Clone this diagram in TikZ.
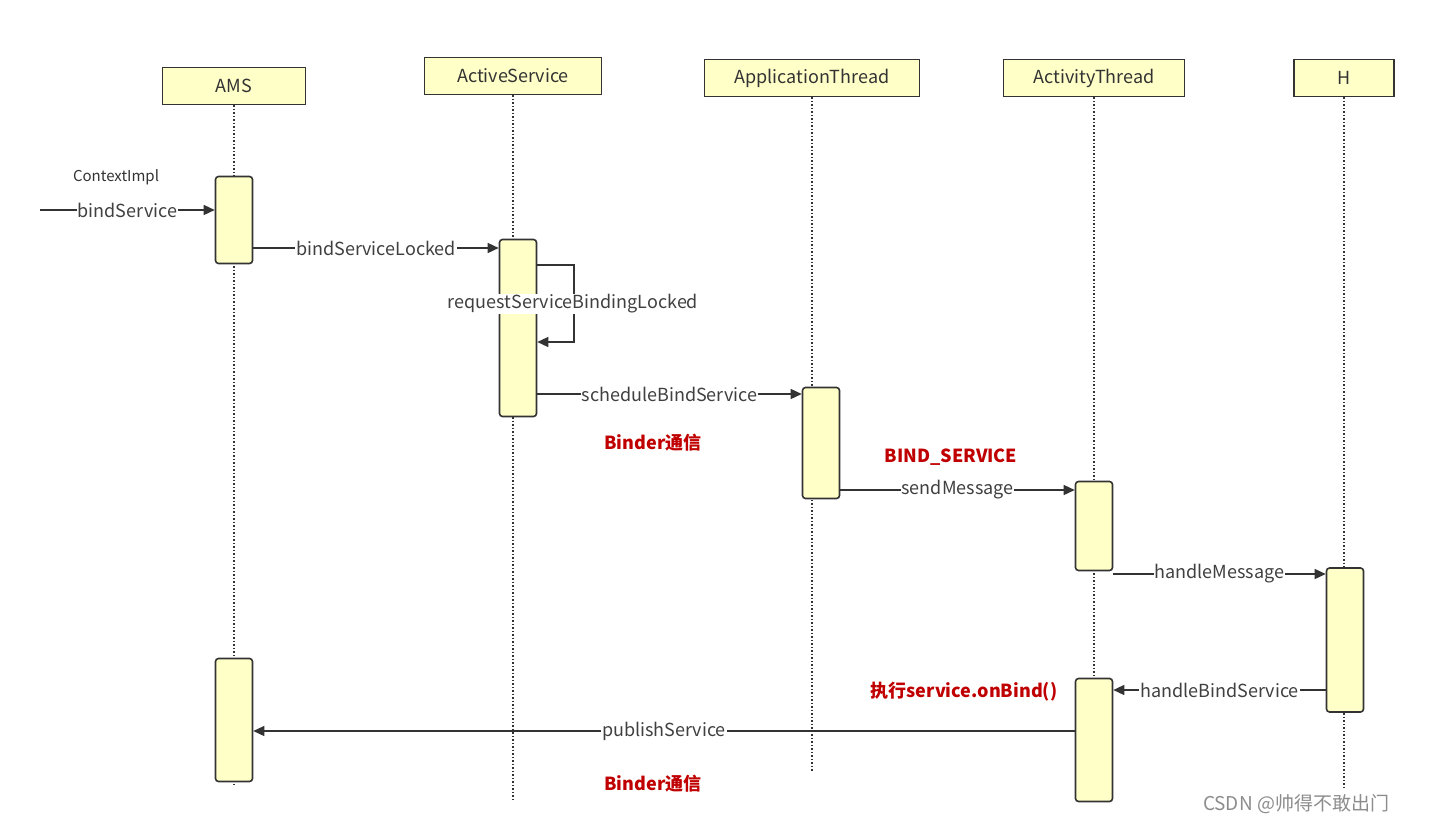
\documentclass[tikz,border=0pt]{standalone}
\usepackage{fontspec}
\setmainfont{Noto Sans CJK SC}
\usetikzlibrary{arrows.meta}
\definecolor{boxfill}{HTML}{FFFFC8}
\definecolor{boxline}{HTML}{333333}
\definecolor{note}{HTML}{C00000}

\begin{document}
\begin{tikzpicture}[x=1pt,y=-1pt,
		head/.style={draw=boxline,line width=1.6pt,fill=boxfill,minimum height=37pt,inner sep=0pt,font=\fontsize{18}{18}\selectfont,text=black!80},
		act/.style={draw=boxline,line width=1.6pt,fill=boxfill,rounded corners=3pt,minimum width=37pt,inner sep=0pt},
		life/.style={draw=boxline,dotted,line width=1.5pt},
		msg/.style={draw=boxline,line width=1.4pt,-{Triangle[length=11pt,width=10pt]}},
		lbl/.style={fill=white,inner sep=1pt,text=black!75,font=\fontsize{18}{18}\selectfont},
		red/.style={text=note,font=\bfseries\fontsize{18}{18}\selectfont}]
	\useasboundingbox (0,0) rectangle (1434,830);
	% lifelines
	\draw[life] (234,105) -- (234,785);
	\draw[life] (513,95) -- (513,800);
	\draw[life] (812,97) -- (812,772);
	\draw[life] (1094,97) -- (1094,800);
	\draw[life] (1344,97) -- (1344,790);
	% heads
	\node[head,minimum width=143pt] (ams) at (234,86) {AMS};
	\node[head,minimum width=177pt] (as) at (513,76) {ActiveService};
	\node[head,minimum width=215pt] (apt) at (812,78) {ApplicationThread};
	\node[head,minimum width=181pt] (at) at (1094,78) {ActivityThread};
	\node[head,minimum width=100pt] (h) at (1344,78) {H};
	% activations
	\node[act,minimum height=87pt] (ams1) at (234,220) {};
	\node[act,minimum height=177pt] (as1) at (518,328) {};
	\node[act,minimum height=111pt] (apt1) at (821,443) {};
	\node[act,minimum height=89pt] (at1) at (1094,526) {};
	\node[act,minimum height=144pt] (h1) at (1345,640) {};
	\node[act,minimum height=123pt] (ams2) at (234,720) {};
	\node[act,minimum height=123pt] (at2) at (1094,740) {};
	% messages
	\node[font=\fontsize{15}{15}\selectfont,text=black!80] (ctx) at (116,177) {ContextImpl};
	\coordinate (src) at (40,210);
	\draw[msg] (src) -- (ams1.west |- src) node[lbl,midway] {bindService};
	\draw[msg] (ams1.east |- 0,248) -- (as1.west |- 0,248) node[lbl,midway] {bindServiceLocked};
	\draw[msg] (as1.east |- 0,265) -| (574,342) -- (as1.east |- 0,342);
	\node[lbl] (req) at (573,304) {requestServiceBindingLocked};
	\draw[msg] (as1.east |- 0,394) -- (apt1.west |- 0,394) node[lbl,midway] {scheduleBindService};
	\node[red] (b1) at (653,443) {Binder通信};
	\node[red] (bs) at (951,457) {BIND\_SERVICE};
	\draw[msg] (apt1.east |- 0,490) -- (at1.west |- 0,490) node[lbl,midway] {sendMessage};
	\draw[msg] (at1.east |- 0,574) -- (h1.west |- 0,574) node[lbl,midway] {handleMessage};
	\draw[msg] (h1.west |- 0,690) -- (at2.east |- 0,690) node[lbl,midway] {handleBindService};
	\node[red] (exe) at (964,692) {执行service.onBind()};
	\draw[msg] (at2.west |- 0,731) -- (ams2.east |- 0,731) node[lbl,midway] {publishService};
	\node[red] (b2) at (653,784) {Binder通信};
	\node[text=black!45,font=\fontsize{19}{19}\selectfont] (wm) at (1296,804) {CSDN @帅得不敢出门};
\end{tikzpicture}
\end{document}
